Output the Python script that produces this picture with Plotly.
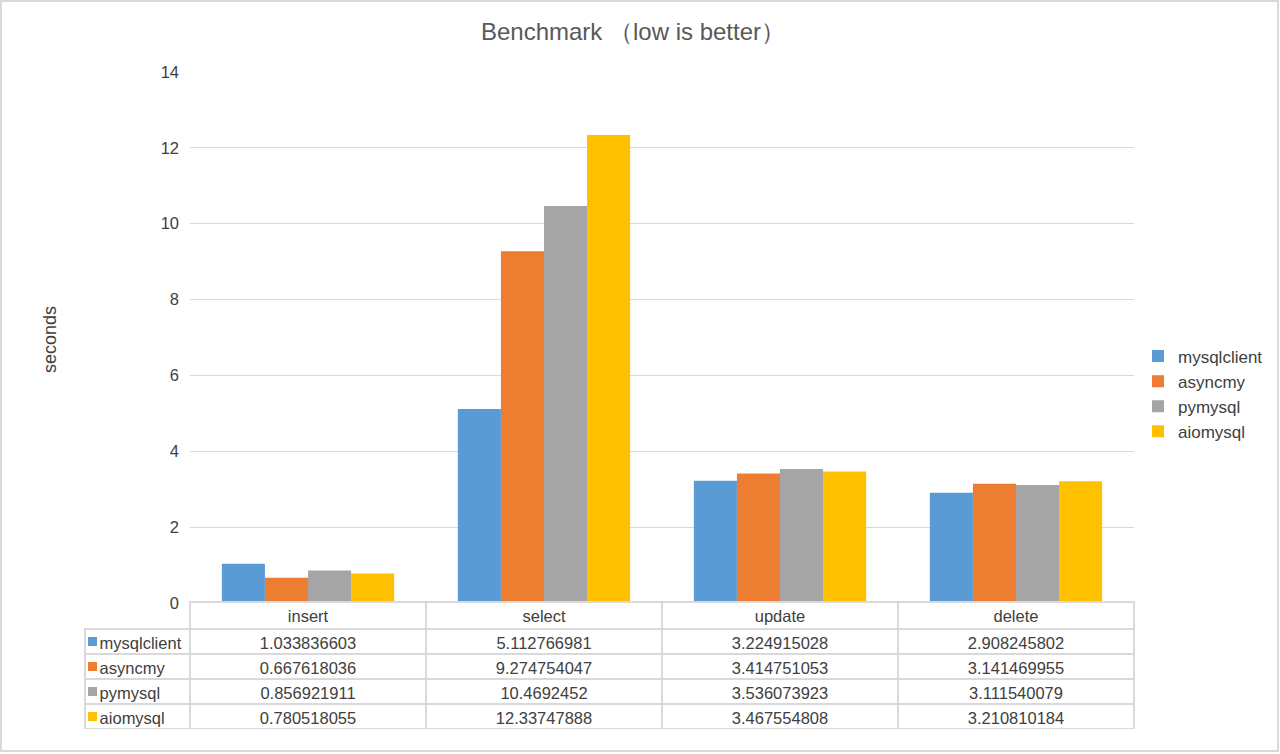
import plotly.graph_objects as go

W, H = 1280, 754

operations = ["insert", "select", "update", "delete"]
drivers = ["mysqlclient", "asyncmy", "pymysql", "aiomysql"]
colors = ["#5B9BD5", "#ED7D31", "#A5A5A5", "#FFC000"]

mysqlclient = [1.033836603, 5.112766981, 3.224915028, 2.908245802]
asyncmy = [0.667618036, 9.274754047, 3.414751053, 3.141469955]
pymysql = [0.856921911, 10.4692452, 3.536073923, 3.111540079]
aiomysql = [0.780518055, 12.33747888, 3.467554808, 3.210810184]
series = [mysqlclient, asyncmy, pymysql, aiomysql]

y_ticks = [0, 2, 4, 6, 8, 10, 12, 14]

FONT = "Liberation Sans, Arial, sans-serif"
TEXT = "#404040"
GRID = "#d9d9d9"

# table geometry (pixels)
TBL_LEFT, TBL_RIGHT = 85, 1134
TBL_TOP = 602
HEAD_H, ROW_H = 27, 25
TBL_BOTTOM = TBL_TOP + HEAD_H + ROW_H * len(drivers)


def px_x(p):
    return p / W


def px_y(p):
    return 1 - p / H


fig = go.Figure()

for name, vals, col in zip(drivers, series, colors):
    fig.add_trace(go.Bar(name=name, x=operations, y=vals, marker_color=col,
                         marker_line_width=0))

# data table under the plot
first_col = ["\u2009\u2009" + d for d in drivers]
cols = [first_col]
for i in range(len(operations)):
    cols.append([("%.10g" % s[i]) for s in series])

fig.add_trace(go.Table(
    domain=dict(x=[px_x(TBL_LEFT), px_x(TBL_RIGHT)], y=[px_y(TBL_BOTTOM), px_y(TBL_TOP)]),
    columnwidth=[105, 236, 236, 236, 236],
    header=dict(values=[""] + operations,
                height=HEAD_H,
                fill_color=["rgba(0,0,0,0)"] + ["white"] * 4,
                line=dict(color=GRID, width=[0, 1.5, 1.5, 1.5, 1.5]),
                align="center",
                font=dict(family=FONT, size=16.5, color=TEXT)),
    cells=dict(values=cols,
               height=ROW_H,
               fill_color="white",
               line=dict(color=GRID, width=1.5),
               align=["left", "center", "center", "center", "center"],
               font=dict(family=FONT, size=16.5, color=TEXT)),
))

# colour keys in the first table column
shapes = [dict(type="rect", xref="paper", yref="paper",
               x0=px_x(1), x1=px_x(1278), y0=px_y(751), y1=px_y(1),
               line=dict(color=GRID, width=2))]
for i, col in enumerate(colors):
    yc = TBL_TOP + HEAD_H + ROW_H * i + ROW_H / 2
    shapes.append(dict(type="rect", xref="paper", yref="paper",
                       x0=px_x(88), x1=px_x(97), y0=px_y(yc + 4.5), y1=px_y(yc - 4.5),
                       fillcolor=col, line=dict(width=0), layer="above"))

fig.update_layout(
    width=W, height=H,
    margin=dict(l=0, r=0, t=0, b=0),
    paper_bgcolor="white", plot_bgcolor="white",
    font=dict(family=FONT, size=16, color=TEXT),
    title=dict(text="Benchmark （low is better）", x=px_x(633), xanchor="center",
               y=px_y(32), yanchor="middle",
               font=dict(family=FONT, size=24, color="#595959")),
    barmode="group", bargap=0.27, bargroupgap=0,
    xaxis=dict(domain=[px_x(190), px_x(1134)], showticklabels=False, showgrid=False,
               zeroline=False, showline=False, ticks="", automargin=False),
    yaxis=dict(domain=[px_y(603), px_y(72)], range=[0, 14], tickvals=y_ticks,
               showgrid=True, gridcolor=GRID, gridwidth=1, zeroline=False,
               showline=False, ticks="", ticklabelstandoff=10, automargin=False,
               tickfont=dict(family=FONT, size=16.5, color=TEXT)),
    legend=dict(x=px_x(1138), xanchor="left", y=px_y(394), yanchor="middle",
                font=dict(family=FONT, size=17, color=TEXT), bgcolor="rgba(0,0,0,0)"),
    showlegend=True,
    annotations=[dict(text="seconds", textangle=-90, x=px_x(38), y=px_y(340),
                      xref="paper", yref="paper", showarrow=False,
                      font=dict(family=FONT, size=18, color=TEXT))],
    shapes=shapes,
)

fig.write_html("out.html", config={"displayModeBar": False},
               post_script="document.body.style.margin='0';")
